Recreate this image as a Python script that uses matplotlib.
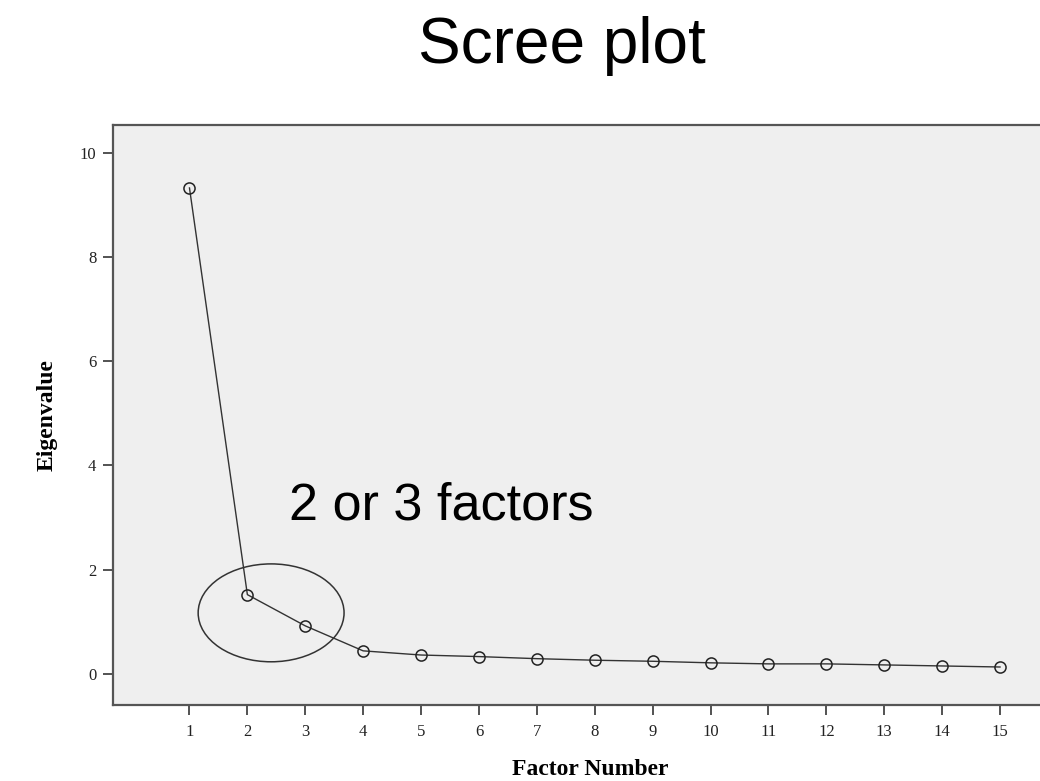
import matplotlib.pyplot as plt
from matplotlib.patches import Ellipse

# eigenvalues
factors = list(range(1, 16))
eigenvalues = [9.33, 1.52, 0.92, 0.44, 0.36, 0.33, 0.29, 0.26, 0.24, 0.21,
               0.19, 0.19, 0.17, 0.15, 0.13]
y_ticks = [0, 2, 4, 6, 8, 10]

serif = 'Liberation Serif'
sans = 'Liberation Sans'

fig = plt.figure(figsize=(10.4, 7.81), dpi=100)
ax = fig.add_axes([0.1087, 0.0973, 0.8963, 0.7427])
ax.set_facecolor('#efefef')

ax.plot(factors, eigenvalues, color='#333333', lw=1.0,
        marker='o', markersize=8, markerfacecolor='none',
        markeredgecolor='#222222', markeredgewidth=1.1)

# circle around the elbow
ax.add_patch(Ellipse((2.41, 1.17), 2.52, 1.88, fill=False,
                     edgecolor='#333333', lw=1.1))
ax.text(2.72, 2.96, '2 or 3 factors', fontsize=37.5, family=sans,
        ha='left', va='baseline')

ax.set_xlim(-0.32, 15.78)
ax.set_ylim(-0.6, 10.54)
ax.set_xticks(factors)
ax.set_yticks(y_ticks)
ax.tick_params(direction='out', length=7, width=1.3, colors='#444444',
               labelcolor='#222222', labelsize=12)
ax.tick_params(axis='x', pad=7)
ax.tick_params(axis='y', pad=5)
for lbl in ax.get_xticklabels() + ax.get_yticklabels():
    lbl.set_family(serif)
for sp in ax.spines.values():
    sp.set_color('#555555')
    sp.set_linewidth(1.6)

ax.set_xlabel('Factor Number', family=serif, fontweight='bold', fontsize=17)
ax.set_ylabel('Eigenvalue', family=serif, fontweight='bold', fontsize=17)
ax.xaxis.set_label_coords(0.512, -0.112)
ax.xaxis.label.set_va('center')
ax.yaxis.set_label_coords(-0.0708, 0.5)
ax.yaxis.label.set_va('center')

fig.text(0.54, 0.919, 'Scree plot', family=sans, fontsize=46,
         ha='center', va='baseline')

fig.savefig('out.png', dpi=100)
